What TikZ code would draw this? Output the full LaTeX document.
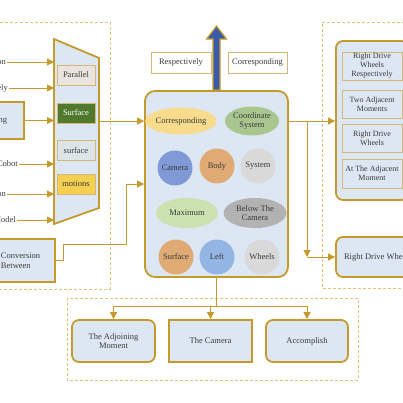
\documentclass[tikz,border=0pt]{standalone}
\usepackage{fontspec}
\setmainfont{Liberation Serif}
\usepackage{xcolor}
\usetikzlibrary{arrows.meta, positioning, calc, shapes.geometric}

\definecolor{gold}{HTML}{C49A2C}
\definecolor{dashc}{HTML}{E2C27A}
\definecolor{tanline}{HTML}{D6B77A}
\definecolor{boxfill}{HTML}{DDE7F3}
\definecolor{txt}{HTML}{3A3A3A}
\definecolor{cYellow}{HTML}{F6DC8C}
\definecolor{cGreen}{HTML}{A9C68E}
\definecolor{cPale}{HTML}{CBE2B0}
\definecolor{cBlue}{HTML}{7F9AD6}
\definecolor{cSky}{HTML}{92B5E4}
\definecolor{cOrange}{HTML}{E0AA74}
\definecolor{cGray}{HTML}{D9D9D9}
\definecolor{cDark}{HTML}{B2B2B2}
\definecolor{cArrow}{HTML}{3B5BA8}

\begin{document}
\begin{tikzpicture}[
		x=1pt, y=-1pt,
		>={Triangle[length=7pt,width=7pt]},
		font=\fontsize{8.5}{9.5}\selectfont, text=txt,
		flow/.style={->, gold, line width=0.9pt},
		wire/.style={gold, line width=0.9pt},
		group/.style={dashc, line width=0.8pt, dash pattern=on 3pt off 2pt},
		bigbox/.style={draw=gold, fill=boxfill, line width=1.8pt, align=center, inner sep=2pt},
		roundbox/.style={bigbox, rounded corners=7pt},
		smallbox/.style={draw=tanline, line width=0.9pt, minimum width=38pt, minimum height=20pt, inner sep=1pt},
		innerbox/.style={draw=tanline, fill=boxfill, line width=0.9pt, minimum width=60pt, align=center,
			font=\fontsize{8}{9}\selectfont, inner sep=1pt},
		tagbox/.style={draw=tanline, fill=white, line width=0.7pt, minimum height=21pt},
		blob/.style={ellipse, minimum width=62pt, minimum height=27pt, inner sep=0pt, align=center},
		dot/.style={circle, minimum size=35pt, inner sep=0pt},
		intext/.style={anchor=east, inner sep=1pt}
		]
		\useasboundingbox (0,0) rectangle (403,403);
		
		% ==========================================
		% DASHED GROUPS
		% ==========================================
		\draw[group] (-5,22) -- (110,22) -- (110,289) -- (-5,289);
		\draw[group] (410,22) -- (322,22) -- (322,288) -- (410,288);
		\draw[group] (67,298) rectangle (358,380);
		
		% ==========================================
		% INPUT STAGE (left)
		% ==========================================
		\draw[gold, fill=boxfill, line width=1.8pt] (54,39) -- (99,58) -- (99,208) -- (54,224) -- cycle;
		\coordinate (trapL) at (54,0);
		\coordinate (trapout) at (99,121);
		
		\node[smallbox, fill={rgb,255:red,233;green,229;blue,222}] (par) at (76,75) {Parallel};
		\node[smallbox, fill={rgb,255:red,79;green,122;blue,46}, text=white] (surf) at (76,113) {Surface};
		\node[smallbox, fill={rgb,255:red,220;green,230;blue,232}] (surf2) at (76,150.5) {surface};
		\node[smallbox, fill={rgb,255:red,245;green,207;blue,80}] (mot) at (76,184) {motions};
		
		\node[intext] (inA) at (7,62) {Position};
		\node[intext] (inB) at (9,88) {Respectively};
		\node[bigbox, minimum width=64pt, minimum height=37pt] (track) at (-8,120.5) {Tracking};
		\node[intext] (inC) at (19,164) {Cobot};
		\node[intext] (inD) at (7,194) {Motion};
		\node[intext] (inE) at (17,220) {Model};
		
		\foreach \n in {inA, inB, track, inC, inD, inE}
		\draw[flow] (\n.east) -- (\n.east -| trapL);
		
		\node[bigbox, minimum width=69pt, minimum height=43pt, text width=39pt, align=left] (conv) at (20.5,260.5)
		{Conversion\\Between};
		
		% ==========================================
		% CENTRAL BLOCK
		% ==========================================
		\node[roundbox, rounded corners=10pt, minimum width=143pt, minimum height=186pt] (main) at (216.5,184) {};
		
		\node[blob, fill=cYellow] (corr) at (181,121) {Corresponding};
		\node[blob, fill=cGreen, minimum width=54pt, minimum height=29pt] (coord) at (252,121) {Coordinate\\System};
		\node[dot, fill=cBlue] (cam) at (175,168) {Camera};
		\node[dot, fill=cOrange] (body) at (217,166) {Body};
		\node[dot, fill=cGray] (sys) at (258,166) {System};
		\node[blob, fill=cPale, minimum height=30pt] (max) at (187,213) {Maximum};
		\node[blob, fill=cDark, minimum width=63pt, minimum height=30pt] (below) at (255,213) {Below The\\Camera};
		\node[dot, fill=cOrange] (surf3) at (176,257) {Surface};
		\node[dot, fill=cSky] (left) at (217,257) {Left};
		\node[dot, fill=cGray] (whl) at (262,257) {Wheels};
		
		\draw[flow] (trapout) -- (trapout -| main.west);
		\draw[flow] (conv.east) -- ++(8,0) -- ++(0,-16) -- ++(63,0) |- (main.west);
		
		% output arrow and its tags
		\draw[gold, fill=cArrow, line width=1.2pt, line join=miter]
		([xshift=-3.5pt]main.north) -- ++(0,-51) -- ++(-6.5,0) -- ([yshift=64pt]main.north)
		-- ++(10,13) -- ++(-6.5,0) -- ([xshift=3.5pt]main.north) -- cycle;
		\node[tagbox, minimum width=60pt] (resp) at (181,62.5) {Respectively};
		\node[tagbox, minimum width=59pt] (corr2) at (257.5,62.5) {Corresponding};
		
		% ==========================================
		% RIGHT STAGE
		% ==========================================
		\node[roundbox, minimum width=72pt, minimum height=159pt] (rbig) at (372,120.5) {};
		\node[innerbox, minimum height=28pt] (r1) at (372,66) {Right Drive\\Wheels\\Respectively};
		\node[innerbox, minimum height=28pt] (r2) at (372,104) {Two Adjacent\\Moments};
		\node[innerbox, minimum height=28pt] (r3) at (372,138) {Right Drive\\Wheels};
		\node[innerbox, minimum height=29pt] (r4) at (372,173.5) {At The Adjacent\\Moment};
		\node[roundbox, minimum width=84pt, minimum height=40pt] (rdw) at (378,257) {Right Drive Wheels};
		
		\coordinate (split) at (307,121);
		\draw[flow] (main.east |- split) -- (split -| rbig.west);
		\draw[flow] (split) -- (split |- rdw.west);
		\draw[flow] (split |- rdw.west) -- (rdw.west);
		
		% ==========================================
		% BOTTOM STAGE
		% ==========================================
		\node[roundbox, minimum width=83pt, minimum height=42pt] (b1) at (113.5,341) {The Adjoining\\Moment};
		\node[bigbox, minimum width=83pt, minimum height=42pt] (b2) at (210.5,341) {The Camera};
		\node[roundbox, minimum width=82pt, minimum height=42pt] (b3) at (307,341) {Accomplish};
		
		\draw[wire] (main.south) -- ++(0,29) coordinate (hub);
		\foreach \b in {b1, b2, b3}
		\draw[flow] (hub) -| (\b.north);
		
	\end{tikzpicture}
\end{document}
